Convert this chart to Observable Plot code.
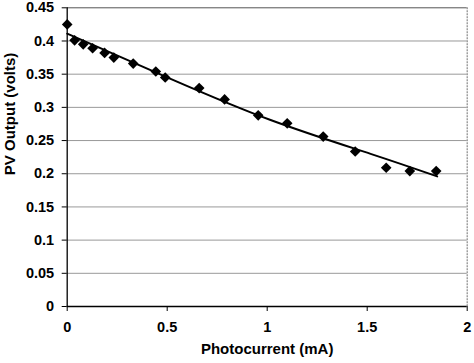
<!DOCTYPE html>
<html>
<head>
<meta charset="utf-8">
<script src="https://cdn.jsdelivr.net/npm/d3@7"></script>
<script src="https://cdn.jsdelivr.net/npm/@observablehq/plot@0.6"></script>
<style>
  html, body { margin: 0; padding: 0; background: #fff; }
  #chart { width: 474px; height: 363px; }
</style>
</head>
<body>
<div id="chart"></div>
<script>
// Measured points (photocurrent in mA, PV output in volts)
const current = [0, 0.037, 0.08, 0.127, 0.187, 0.233, 0.33, 0.443, 0.49, 0.66, 0.787, 0.955, 1.10, 1.28, 1.44, 1.595, 1.713, 1.845];
const voltage = [0.425, 0.401, 0.395, 0.389, 0.382, 0.375, 0.366, 0.354, 0.345, 0.329, 0.312, 0.288, 0.276, 0.256, 0.2335, 0.209, 0.204, 0.204];
// Trend line
const trendX = [0, 0.517, 1.017, 1.517, 1.85];
const trendY = [0.411, 0.343, 0.281, 0.230, 0.196];
// Axis ticks
const xTicks = [0, 0.5, 1, 1.5, 2];
const yTicks = [0, 0.05, 0.1, 0.15, 0.2, 0.25, 0.3, 0.35, 0.4, 0.45];
const xTitle = "Photocurrent (mA)";
const yTitle = "PV Output (volts)";

const points = current.map((x, i) => ({x, y: voltage[i]}));
const trend = trendX.map((x, i) => ({x, y: trendY[i]}));
const fmt = d => String(+d.toFixed(2));

const chart = Plot.plot({
  width: 474,
  height: 363,
  marginLeft: 66.7,
  marginRight: 7.3,
  marginTop: 7.3,
  marginBottom: 57,
  style: {fontFamily: "'Liberation Sans', Arial, sans-serif", fontSize: "14.5px", fontWeight: "bold", color: "#000", background: "#fff"},
  x: {domain: [0, 2]},
  y: {domain: [0, 0.45]},
  marks: [
    Plot.gridY(yTicks.filter(d => d > 0 && d < 0.45), {stroke: "#999", strokeOpacity: 1, strokeWidth: 1}),
    Plot.ruleY([0.45], {stroke: "#555", strokeWidth: 1}),
    Plot.ruleX([2], {stroke: "#888", strokeWidth: 1.2, strokeDasharray: "2,1"}),
    Plot.axisY(yTicks, {tickSize: 5, tickPadding: 8, tickFormat: fmt, label: null, stroke: "#000", fontSize: 14.5}),
    Plot.axisX(xTicks, {tickSize: 5, tickPadding: 10, tickFormat: fmt, label: null, stroke: "#000", fontSize: 14.5}),
    Plot.ruleX([0], {stroke: "#000", strokeWidth: 1.3}),
    Plot.ruleY([0], {stroke: "#000", strokeWidth: 1.3}),
    Plot.line(trend, {x: "x", y: "y", stroke: "#000", strokeWidth: 2, curve: "natural"}),
    Plot.dot(points, {x: "x", y: "y", symbol: "diamond2", r: 4.8, fill: "#000", stroke: "none"}),
    Plot.text([yTitle], {frameAnchor: "left", dx: -57, dy: 18, rotate: -90, text: d => d, fontSize: 15, fontWeight: "bold"}),
    Plot.text([xTitle], {frameAnchor: "bottom", dy: 47, text: d => d, fontSize: 15, fontWeight: "bold"})
  ]
});
document.getElementById("chart").appendChild(chart);
</script>
</body>
</html>
